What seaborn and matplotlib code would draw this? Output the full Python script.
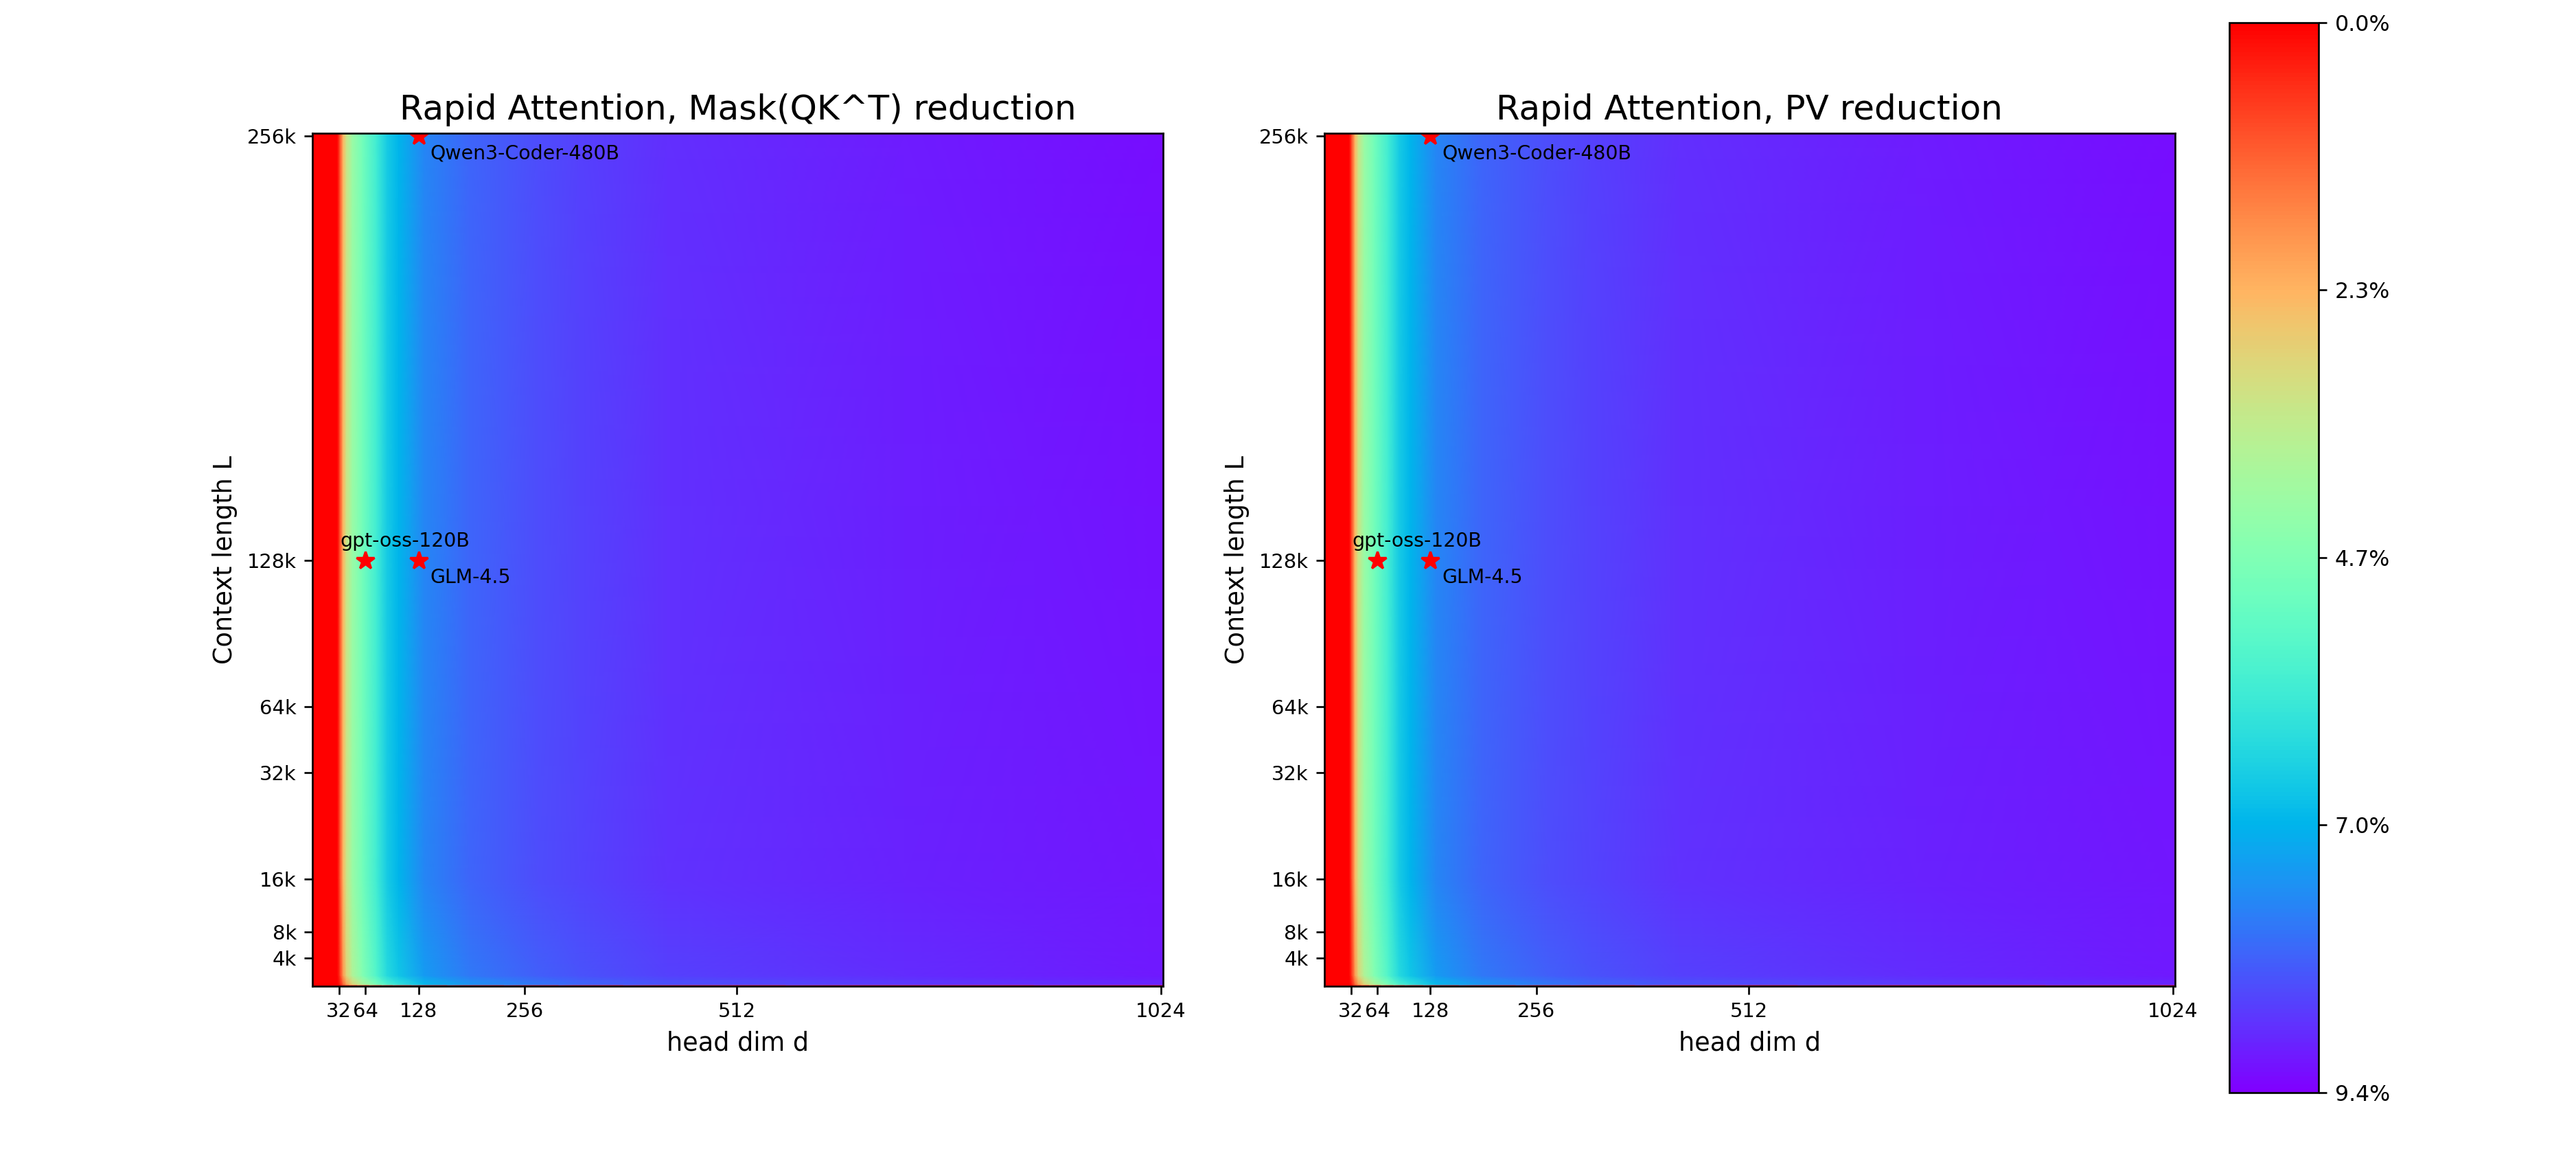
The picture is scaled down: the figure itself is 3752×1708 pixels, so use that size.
import numpy as np
import matplotlib
matplotlib.use("Agg")
import matplotlib.pyplot as plt
import seaborn as sns

# head dim d samples (mesh columns)
head_dims = [0, 30, 33, 37, 41, 48, 60, 77, 90, 104, 135, 190, 272, 322, 428, 714, 1027]
# context length L samples (mesh rows)
ctx_rows = [0, 256, 1536, 16384, 263000]

# reduction in %, one list per context-length row
red_L0 = [0, 0, 0, 0, 0, 0, 0, 0, 0, 0, 0, 0, 0, 0, 0, 0, 0]
red_L256 = [0, 0, 0.3, 1.2, 2.0, 2.9, 3.8, 4.8, 5.6, 6.1, 6.9, 7.5, 7.9, 8.1, 8.35, 8.65, 8.9]
red_L1536 = [0, 0, 0.6, 1.9, 2.9, 3.8, 4.6, 5.5, 6.3, 6.7, 7.4, 7.9, 8.2, 8.35, 8.6, 8.85, 9.05]
red_L16k = [0, 0, 0.9, 2.35, 3.3, 4.2, 4.9, 5.8, 6.6, 7.0, 7.7, 8.15, 8.45, 8.55, 8.75, 8.95, 9.1]
red_L256k = [0, 0, 0.9, 2.35, 3.3, 4.2, 4.9, 5.8, 6.6, 7.0, 7.7, 8.15, 8.45, 8.58, 8.8, 9.02, 9.2]
vmax = 9.37

# ticks
d_ticks = [32, 64, 128, 256, 512, 1024]
L_ticks = [4096, 8192, 16384, 32768, 65536, 131072, 262144]
L_labels = ["4k", "8k", "16k", "32k", "64k", "128k", "256k"]
# where the original axis put each L tick (fraction of axis height)
L_tick_pos = [0.033, 0.0635, 0.1255, 0.2505, 0.3275, 0.4995, 0.9968]

# models marked on the map
models = ["gpt-oss-120B", "GLM-4.5", "Qwen3-Coder-480B"]
model_d = [64, 128, 128]
model_L = [131072, 131072, 262144]
label_offsets = [(-11, 6), (5, -10), (5, -10)]

panels = ["Rapid Attention, Mask(QK^T) reduction", "Rapid Attention, PV reduction"]

sns.set_style("ticks", {"axes.edgecolor": "black", "xtick.color": "black",
                        "ytick.color": "black", "text.color": "black",
                        "axes.labelcolor": "black"})
plt.rcParams["font.family"] = ["DejaVu Sans"]
plt.rcParams["xtick.major.size"] = 3.5
plt.rcParams["ytick.major.size"] = 3.5
plt.rcParams["xtick.major.width"] = 0.8
plt.rcParams["ytick.major.width"] = 0.8
plt.rcParams["axes.linewidth"] = 0.8

cmap = sns.color_palette("rainbow_r", as_cmap=True)

# piecewise axis for context length, as in the original
knots_L = np.array([0] + L_ticks + [2 * L_ticks[-1]], dtype=float)
knots_p = np.array([0] + L_tick_pos + [L_tick_pos[-1] + 2 * (L_tick_pos[-1] - L_tick_pos[-2])])


def fwd(v):
    return np.interp(v, knots_L, knots_p)


def inv(p):
    return np.interp(p, knots_p, knots_L)


X, Y = np.meshgrid(head_dims, ctx_rows)
C = np.array([red_L0, red_L256, red_L1536, red_L16k, red_L256k])

fig = plt.figure(figsize=(3752 / 240, 1708 / 240), dpi=240)
ax_pos = [[0.1213, 0.1593, 0.3302, 0.7272], [0.5141, 0.1593, 0.3302, 0.7272]]

for pos, title in zip(ax_pos, panels):
    ax = fig.add_axes(pos)
    ax.set_yscale("function", functions=(fwd, inv))
    mesh = ax.pcolormesh(X, Y, C, shading="gouraud", cmap=cmap, vmin=0, vmax=vmax)
    ax.set_xlim(0, 1026.5)
    ax.set_ylim(0, 263000)
    ax.set_xticks(d_ticks)
    ax.set_xticklabels([str(d) for d in d_ticks])
    ax.set_yticks(L_ticks)
    ax.set_yticklabels(L_labels)
    ax.minorticks_off()
    ax.tick_params(labelsize=8.7)
    for name, d, L, off in zip(models, model_d, model_L, label_offsets):
        ax.plot(d, L, marker="*", color="red", markersize=8, linestyle="none")
        ax.annotate(name, (d, L), xytext=off, textcoords="offset points", fontsize=8.5)
    ax.set_title(title, fontsize=15)
    ax.set_xlabel("head dim d", fontsize=11)
    ax.set_ylabel("Context length L", fontsize=11)

cax = fig.add_axes([0.8654, 0.0685, 0.0347, 0.9122])
cb = fig.colorbar(mesh, cax=cax)
cb.set_ticks(np.linspace(0, vmax, 5))
cb.set_ticklabels([f"{t:.1f}%" for t in np.linspace(0, vmax, 5)])
cb.ax.invert_yaxis()
cb.ax.tick_params(labelsize=9.5)

fig.savefig("out.png", dpi=240)
